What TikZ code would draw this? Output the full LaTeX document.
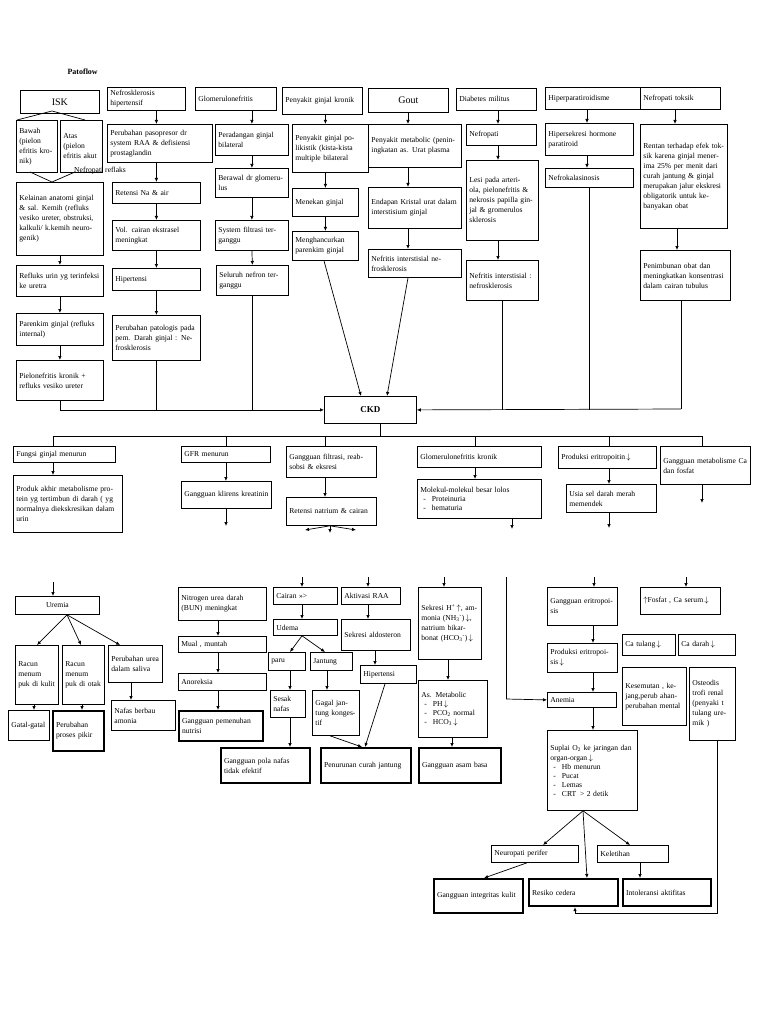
\documentclass[tikz,border=0pt]{standalone}
\usepackage{fontspec}
\setmainfont{Liberation Serif}
\usetikzlibrary{arrows.meta}
\newcommand\bx[7][]{\node[bx,#1,minimum height=#6pt-#4pt,text width={\dimexpr #5pt-#3pt-6pt\relax}] (#2) at (#3,#4) {#7};}
\newcommand\dn{\textbf{$\downarrow$}}
\newcommand\up{\textbf{$\uparrow$}}
\begin{document}
\begin{tikzpicture}[x=1pt,y=-1pt,
 bx/.style={draw,line width=0.8pt,anchor=north west,inner sep=3pt,align=left,font=\fontsize{7.6}{10}\selectfont},
 tk/.style={line width=2.2pt},
 ctr/.style={align=center},
 arr/.style={-{Latex[length=4pt,width=3.5pt]},line width=0.7pt},
 ln/.style={line width=0.7pt}]
\useasboundingbox[fill=white] (0,0) rectangle (768,1024);
\node[anchor=west,font=\bfseries\fontsize{8}{10}\selectfont] (title) at (64,72) {Patoflow};
% column ISK
\bx[ctr,font=\fontsize{10}{12}\selectfont]{isk}{20}{90}{99}{113}{ISK}
\bx{bawah}{16}{120}{57}{172}{Bawah (pielon efritis kronik)}
\bx{atas}{60}{120}{102}{172}{Atas (pielon efritis akut}
\coordinate (dtop) at (52,111);
\coordinate (dbot) at (52,182);
\draw[ln] (dtop) -- (17,120) (dtop) -- (85,120);
\draw[ln] (30,172) -- (dbot) -- (75,172);
\node[anchor=west,font=\fontsize{7.6}{10}\selectfont,inner sep=0pt] (nrefl) at (74,171) {Nefropati reflaks};
\bx{kel}{16}{182}{103}{255}{Kelainan anatomi ginjal \& sal. Kemih (refluks vesiko ureter, obstruksi, kalkuli/ k.kemih neurogenik)}
\bx{ref}{16}{265}{103}{296}{Refluks urin yg terinfeksi ke uretra}
\bx{par}{16}{313}{103}{345}{Parenkim ginjal (refluks internal)}
\bx{piel}{16}{360}{103}{400}{Pielonefritis kronik + refluks vesiko ureter}
\draw[arr] (kel.south) -- (ref.north);
\draw[arr] (ref.south) -- (par.north);
\draw[arr] (par.south) -- (piel.north);
% nefrosklerosis
\bx{nefh}{107}{87}{185}{110}{Nefrosklerosis hipertensif}
\bx{paso}{107}{124}{212}{162}{Perubahan pasopresor dr system RAA \& defisiensi prostaglandin}
\bx{retna}{112}{182}{200}{203}{Retensi Na \& air}
\bx{vol}{112}{220}{200}{250}{Vol. cairan ekstrasel meningkat}
\bx{hip1}{112}{268}{200}{290}{Hipertensi}
\bx{pato}{112}{315}{200}{360}{Perubahan patologis pada pem. Darah ginjal : Nefrosklerosis}
\draw[arr] (nefh.south -| retna.north) -- (paso.north -| retna.north);
\draw[arr] (paso.south -| retna.north) -- (retna.north);
\draw[arr] (retna.south) -- (vol.north);
\draw[arr] (vol.south) -- (hip1.north);
\draw[arr] (hip1.south) -- (pato.north);
% glomerulonefritis
\bx{glo}{195}{87}{276}{110}{Glomerulonefritis}
\bx{pera}{215}{124}{288}{155}{Peradangan ginjal bilateral}
\bx{bera}{215}{168}{288}{197}{Berawal dr glomerulus}
\bx{sysf}{215}{220}{288}{250}{System filtrasi terganggu}
\bx{selu}{216}{265}{288}{295}{Seluruh nefron terganggu}
\draw[arr] (glo.south -| bera.north) -- (pera.north -| bera.north);
\draw[arr] (pera.south -| bera.north) -- (bera.north);
\draw[arr] (bera.south) -- (sysf.north);
\draw[arr] (sysf.south) -- (selu.north);
% PGK
\bx{pgk}{282}{87}{362}{114}{Penyakit ginjal kronik}
\bx{poli}{292}{124}{368}{172}{Penyakit ginjal polikistik (kista-kista multiple bilateral}
\bx{mene}{292}{188}{358}{216}{Menekan ginjal}
\bx{meng}{292}{231}{358}{260}{Menghancurkan parenkim ginjal}
\draw[arr] (pgk.south -| mene.north) -- (poli.north -| mene.north);
\draw[arr] (poli.south -| mene.north) -- (mene.north);
\draw[arr] (mene.south) -- (meng.north);
% gout
\bx[ctr,font=\fontsize{10}{12}\selectfont]{gout}{368}{88}{448}{112}{Gout}
\bx{pmet}{368}{124}{461}{167}{Penyakit metabolic (peniningkatan as. Urat plasma}
\bx{enda}{368}{187}{461}{228}{Endapan Kristal urat dalam interstisium ginjal}
\bx{nint}{368}{249}{461}{277}{Nefritis interstisial nefrosklerosis}
\draw[arr] (gout.south -| 408,0) -- (pmet.north -| 408,0);
\draw[arr] (pmet.south -| 408,0) -- (enda.north -| 408,0);
\draw[arr] (enda.south -| 408,0) -- (nint.north -| 408,0);
% DM
\bx{dm}{456}{88}{536}{110}{Diabetes militus}
\bx{nefr}{466}{124}{536}{145}{Nefropati}
\bx{lesi}{466}{160}{538}{240}{Lesi pada arteriola, pielonefritis \& nekrosis papilla ginjal \& gromerulos sklerosis}
\bx{nint2}{466}{260}{538}{300}{Nefritis interstisial : nefrosklerosis}
\draw[arr] (dm.south -| 498,0) -- (nefr.north -| 498,0);
\draw[arr] (nefr.south -| 498,0) -- (lesi.north -| 498,0);
\draw[arr] (lesi.south -| 498,0) -- (nint2.north -| 498,0);
% hiperparatiroid
\bx{hpt}{545}{87}{640}{109}{Hiperparatiroidisme}
\bx{hsek}{545}{123}{633}{155}{Hipersekresi hormone paratiroid}
\bx{nefk}{545}{168}{633}{187}{Nefrokalasinosis}
\draw[arr] (hpt.south -| 587,0) -- (hsek.north -| 587,0);
\draw[arr] (hsek.south -| 587,0) -- (nefk.north -| 587,0);
% toksik
\bx{ntok}{640}{87}{720}{109}{Nefropati toksik}
\bx{rent}{640}{124}{727}{228}{Rentan terhadap efek toksik karena ginjal menerima 25\% per menit dari curah jantung \& ginjal merupakan jalur ekskresi obligatorik untuk kebanyakan obat}
\bx{peni}{640}{250}{730}{300}{Penimbunan obat dan meningkatkan konsentrasi dalam cairan tubulus}
\draw[arr] (ntok.south -| 675,0) -- (rent.north -| 675,0);
\draw[arr] (rent.south -| 677,0) -- (peni.north -| 677,0);
% CKD
\bx[ctr,font=\bfseries\fontsize{9}{11}\selectfont]{ckd}{324}{396}{416}{423}{CKD}
\draw[ln] (piel.south) -- (piel.south |- ckd.west);
\draw[ln] (pato.south) -- (pato.south |- ckd.west);
\draw[ln] (selu.south) -- (selu.south |- ckd.west);
\draw[arr] (piel.south |- ckd.west) -- (ckd.west);
\draw[ln] (nint2.south) -- (nint2.south |- ckd.east);
\draw[ln] (nefk.south) -- (nefk.south |- ckd.east);
\draw[ln] (peni.south -| 681,0) -- (681,409);
\draw[arr] (681,409) -- (ckd.east);
\draw[arr] (meng.south -| 324,0) -- (ckd.north -| 361,0);
\draw[arr] (nint.south -| 408,0) -- (ckd.north -| 387,0);
% level 2
\coordinate (bus) at (380,436);
\draw[ln] (ckd.south -| bus) -- (bus);
\draw[ln] (53,436) -- (702,436);
\bx{fung}{13}{446}{115}{462}{Fungsi ginjal menurun}
\bx{prod}{13}{475}{122}{532}{Produk akhir metabolisme protein yg tertimbun di darah ( yg normalnya diekskresikan dalam urin}
\bx{gfr}{181}{446}{270}{462}{GFR menurun}
\bx{klir}{181}{481}{271}{508}{Gangguan klirens kreatinin}
\bx{gfil}{286}{446}{376}{477}{Gangguan filtrasi, reabsobsi \& eksresi}
\bx{retn}{286}{497}{376}{525}{Retensi natrium \& cairan}
\bx{glok}{417}{446}{541}{467}{Glomerulonefritis kronik}
\bx{mole}{417}{479}{541}{518}{Molekul-molekul besar lolos\\[-1pt]\hspace*{3pt}-\hspace{6pt}Proteinuria\\[-1pt]\hspace*{3pt}-\hspace{6pt}hematuria}
\bx{peri}{558}{446}{656}{468}{Produksi eritropoitin\,\dn}
\bx{usia}{566}{484}{656}{512}{Usia sel darah merah memendek}
\bx{gmet}{660}{446}{750}{484}{Gangguan metabolisme Ca dan fosfat}
\foreach \n/\x in {fung/53,gfr/226,gfil/325,glok/475,peri/609,gmet/702}{\draw[ln] (\x,436) -- (\n.north -| \x,0);}
\draw[arr] (fung.south -| 53,0) -- (prod.north -| 53,0);
\draw[arr] (gfr.south) -- (klir.north -| gfr.south);
\draw[arr] (gfil.south -| 325,0) -- (retn.north -| 325,0);
\draw[arr] (glok.south -| 475,0) -- (mole.north -| 475,0);
\draw[arr] (peri.south -| 609,0) -- (usia.north -| 609,0);
\coordinate (e1) at (226,526); \draw[arr] (klir.south -| e1) -- (e1);
\coordinate (e2) at (305,530); \coordinate (e3) at (330,533); \coordinate (e4) at (356,530);
\draw[arr] (retn.south -| 330,0) -- (e2); \draw[arr] (retn.south -| 330,0) -- (e3); \draw[arr] (retn.south -| 330,0) -- (e4);
\coordinate (e5) at (512,529); \draw[arr] (mole.south -| e5) -- (e5);
\coordinate (e6) at (609,528); \draw[arr] (usia.south -| e6) -- (e6);
\coordinate (e7) at (702,503); \draw[arr] (gmet.south -| e7) -- (e7);
% level 3 uremia
\bx[ctr]{urem}{15}{596}{99}{614}{Uremia}
\coordinate (s1) at (53,582); \draw[arr] (s1) -- (urem.north -| s1);
\bx{rkul}{15}{645}{58}{704}{Racun menum puk di kulit}
\bx{rota}{62}{645}{104}{704}{Racun menum puk di otak}
\bx{pure}{108}{645}{162}{682}{Perubahan urea dalam saliva}
\bx{gata}{8}{710}{49}{740}{Gatal-gatal}
\bx[tk]{ppik}{52}{710}{103}{750}{Perubahan proses pikir}
\bx{naf}{111}{700}{175}{730}{Nafas berbau amonia}
\draw[arr] (urem.south -| 67,0) -- (rkul.north -| 37,0);
\draw[arr] (urem.south -| 67,0) -- (rota.north -| 81,0);
\draw[arr] (urem.south -| 67,0) -- (pure.north -| 120,0);
\draw[arr] (rkul.south -| 34,0) -- (gata.north -| 34,0);
\draw[arr] (rota.south -| 82,0) -- (ppik.north -| 82,0);
\draw[arr] (pure.south -| 131,0) -- (naf.north -| 131,0);
% BUN
\bx{bun}{178}{587}{266}{620}{Nitrogen urea darah (BUN) meningkat}
\bx{mual}{178}{636}{266}{652}{Mual , muntah}
\bx{anor}{178}{673}{266}{690}{Anoreksia}
\bx[tk]{gpn}{178}{710}{262}{740}{Gangguan pemenuhan nutrisi}
\draw[arr] (bun.south -| 218,0) -- (mual.north -| 218,0);
\draw[arr] (mual.south -| 218,0) -- (anor.north -| 218,0);
\draw[arr] (anor.south -| 218,0) -- (gpn.north -| 218,0);
% cairan
\bx{cair}{273}{587}{337}{604}{Cairan >>>}
\bx{udem}{273}{619}{337}{635}{Udema}
\bx{paru}{268}{652}{305}{670}{paru}
\bx{jant}{310}{652}{352}{670}{Jantung}
\bx{sesa}{270}{690}{305}{717}{Sesak nafas}
\bx{gaga}{312}{690}{359}{735}{Gagal jantung kongestif}
\bx[tk]{gpol}{220}{747}{309}{782}{Gangguan pola nafas tidak efektif}
\bx[tk]{pcur}{320}{747}{410}{782}{Penurunan curah jantung}
\coordinate (s2) at (302,577); \draw[arr] (s2) -- (cair.north -| s2);
\draw[arr] (cair.south -| 302,0) -- (udem.north -| 302,0);
\draw[arr] (udem.south -| 302,0) -- (paru.north -| 290,0);
\draw[arr] (udem.south -| 302,0) -- (jant.north -| 325,0);
\draw[arr] (paru.south -| 290,0) -- (sesa.north -| 290,0);
\draw[arr] (jant.south -| 327,0) -- (gaga.north -| 327,0);
\draw[arr] (sesa.south -| 290,0) -- (gpol.north -| 290,0);
\draw[arr] (gaga.south -| 330,0) -- (pcur.north -| 362,0);
% RAA
\bx{raa}{341}{587}{400}{604}{Aktivasi RAA}
\bx{aldo}{341}{619}{410}{650}{Sekresi aldosteron}
\bx{hip2}{360}{665}{416}{683}{Hipertensi}
\coordinate (s3) at (368,577); \draw[arr] (s3) -- (raa.north -| s3);
\draw[arr] (raa.south -| 368,0) -- (aldo.north -| 368,0);
\draw[arr] (aldo.south -| 375,0) -- (hip2.north -| 375,0);
\draw[arr] (hip2.south -| 385,0) -- (pcur.north -| 365,0);
% asam basa
\bx{sekh}{418}{587}{481}{659}{Sekresi H\textsuperscript{+}\,\up, ammonia (NH\textsubscript{3}\textsuperscript{-})\,\dn, natrium bikarbonat (HCO\textsubscript{3}\textsuperscript{-})\,\dn}
\bx{asm}{418}{680}{487}{737}{As. Metabolic\\[-1pt]\hspace*{3pt}-\hspace{6pt}PH\,\dn\\[-1pt]\hspace*{3pt}-\hspace{6pt}PCO\textsubscript{2} normal\\[-1pt]\hspace*{3pt}-\hspace{6pt}HCO\textsubscript{3}\,\dn}
\bx[tk]{gab}{418}{747}{500}{782}{Gangguan asam basa}
\coordinate (s4) at (444,577); \draw[arr] (s4) -- (sekh.north -| s4);
\draw[arr] (sekh.south -| 448,0) -- (asm.north -| 448,0);
\draw[arr] (asm.south -| 452,0) -- (gab.north -| 452,0);
% anemia
\bx{geri}{547}{587}{617}{625}{Gangguan eritropoisis}
\bx{perp}{547}{643}{617}{672}{Produksi eritropoisis\,\dn}
\bx{anem}{547}{692}{616}{707}{Anemia}
\bx{supl}{547}{730}{637}{810}{Suplai O\textsubscript{2} ke jaringan dan organ-organ\,\dn\\[-1pt]\hspace*{3pt}-\hspace{6pt}Hb menurun\\[-1pt]\hspace*{3pt}-\hspace{6pt}Pucat\\[-1pt]\hspace*{3pt}-\hspace{6pt}Lemas\\[-1pt]\hspace*{3pt}-\hspace{6pt}CRT\, > 2 detik}
\coordinate (s5) at (594,577); \draw[arr] (s5) -- (geri.north -| s5);
\coordinate (s6) at (506,577);
\draw[ln] (s6) -- (506,699);
\draw[arr] (506,699) -- (anem.west);
\draw[arr] (geri.south -| 593,0) -- (perp.north -| 593,0);
\draw[arr] (perp.south -| 593,0) -- (anem.north -| 593,0);
\draw[arr] (anem.south -| 593,0) -- (supl.north -| 593,0);
\bx{neur}{491}{845}{578}{862}{Neuropati perifer}
\bx{kele}{597}{845}{668}{862}{Keletihan}
\bx[tk]{gik}{433}{878}{522}{912}{Gangguan integritas kulit}
\bx[tk]{resi}{528}{878}{617}{905}{Resiko cedera}
\bx[tk]{into}{622}{878}{710}{905}{Intoleransi aktifitas}
\draw[arr] (supl.south -| 583,0) -- (neur.north -| 543,0);
\draw[arr] (supl.south -| 583,0) -- (resi.north -| 587,0);
\draw[arr] (supl.south -| 583,0) -- (kele.north -| 630,0);
\draw[arr] (neur.south -| 527,0) -- (gik.north -| 484,0);
\draw[arr] (kele.south -| 640,0) -- (into.north -| 640,0);
% Ca
\bx{fosf}{640}{587}{720}{614}{\up Fosfat , Ca serum\,\dn}
\bx{catu}{622}{634}{675}{655}{Ca tulang\,\dn}
\bx{cada}{678}{634}{735}{655}{Ca darah\,\dn}
\bx{kese}{622}{667}{686}{725}{Kesemutan , kejang,perub ahan-perubahan mental}
\bx{oste}{689}{667}{735}{740}{Osteodis trofi renal (penyaki t tulang uremik )}
\coordinate (s7) at (686,577); \draw[arr] (s7) -- (fosf.north -| s7);
\draw[ln] (oste.south -| 717,0) -- (717,913) -- (575,913);
\draw[arr] (575,913) -- (resi.south -| 575,0);
\end{tikzpicture}
\end{document}
